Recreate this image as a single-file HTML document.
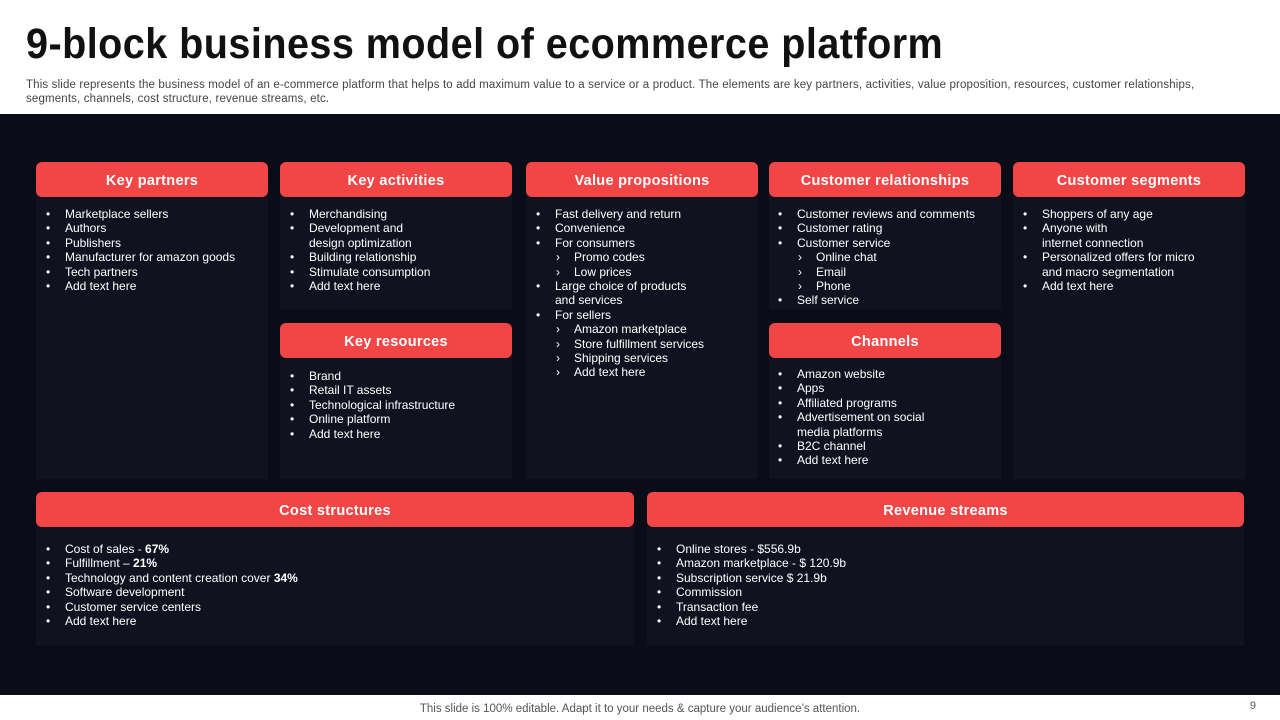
<!DOCTYPE html>
<html><head><meta charset="utf-8"><style>
*{margin:0;padding:0;box-sizing:border-box}
body{width:1280px;height:720px;background:#fff;font-family:"Liberation Sans",Arial,sans-serif;position:relative;overflow:hidden}
h1{position:absolute;left:26px;top:20px;font-size:43px;font-weight:bold;color:#111;white-space:nowrap;transform:scaleX(0.92);transform-origin:left top;letter-spacing:0.5px}
.sub{position:absolute;left:26px;top:78px;width:1200px;font-size:11.5px;letter-spacing:0.15px;line-height:14px;color:#444}
.band{position:absolute;left:0;top:114px;width:1280px;height:581px;background:#0a0d18}
.hd{position:absolute;background:#f24646;border-radius:6px;color:#fff;font-weight:bold;font-size:14.5px;text-align:center;height:35px;line-height:38px;letter-spacing:0.3px}
.bd{position:absolute;background:#10131f}
ul{position:absolute;list-style:none;color:#fff;font-size:12px;line-height:14.4px}
li{position:relative;padding-left:19px}
li:before{content:"•";position:absolute;left:0}
li.s{padding-left:38px}
li.s:before{content:"›";left:20px}
.foot{position:absolute;top:702px;left:0;width:1280px;text-align:center;font-size:11.5px;color:#555}
.pg{position:absolute;right:24px;top:700px;font-size:11px;color:#555}
</style></head><body>
<h1>9-block business model of ecommerce platform</h1>
<div class="sub">This slide represents the business model of an e-commerce platform that helps to add maximum value to a service or a product. The elements are key partners, activities, value proposition, resources, customer relationships, segments, channels, cost structure, revenue streams, etc.</div>
<div class="band"></div>

<div class="bd" style="left:36px;top:190px;width:232px;height:289px"></div>
<div class="hd" style="left:36px;top:162px;width:232px">Key partners</div>
<ul style="left:46px;top:207px"><li>Marketplace sellers</li><li>Authors</li><li>Publishers</li><li>Manufacturer for amazon goods</li><li>Tech partners</li><li>Add text here</li></ul>

<div class="bd" style="left:280px;top:190px;width:232px;height:120px"></div>
<div class="hd" style="left:280px;top:162px;width:232px">Key activities</div>
<ul style="left:290px;top:207px"><li>Merchandising</li><li>Development and<br>design optimization</li><li>Building relationship</li><li>Stimulate consumption</li><li>Add text here</li></ul>

<div class="bd" style="left:280px;top:350px;width:232px;height:129px"></div>
<div class="hd" style="left:280px;top:323px;width:232px">Key resources</div>
<ul style="left:290px;top:369px"><li>Brand</li><li>Retail IT assets</li><li>Technological infrastructure</li><li>Online platform</li><li>Add text here</li></ul>

<div class="bd" style="left:526px;top:190px;width:232px;height:289px"></div>
<div class="hd" style="left:526px;top:162px;width:232px">Value propositions</div>
<ul style="left:536px;top:207px"><li>Fast delivery and return</li><li>Convenience</li><li>For consumers</li><li class="s">Promo codes</li><li class="s">Low prices</li><li>Large choice of products<br>and services</li><li>For sellers</li><li class="s">Amazon marketplace</li><li class="s">Store fulfillment services</li><li class="s">Shipping services</li><li class="s">Add text here</li></ul>

<div class="bd" style="left:769px;top:190px;width:232px;height:120px"></div>
<div class="hd" style="left:769px;top:162px;width:232px">Customer relationships</div>
<ul style="left:778px;top:207px"><li>Customer reviews and comments</li><li>Customer rating</li><li>Customer service</li><li class="s">Online chat</li><li class="s">Email</li><li class="s">Phone</li><li>Self service</li></ul>

<div class="bd" style="left:769px;top:350px;width:232px;height:129px"></div>
<div class="hd" style="left:769px;top:323px;width:232px">Channels</div>
<ul style="left:778px;top:367px"><li>Amazon website</li><li>Apps</li><li>Affiliated programs</li><li>Advertisement on social<br>media platforms</li><li>B2C channel</li><li>Add text here</li></ul>

<div class="bd" style="left:1013px;top:190px;width:232px;height:289px"></div>
<div class="hd" style="left:1013px;top:162px;width:232px">Customer segments</div>
<ul style="left:1023px;top:207px"><li>Shoppers of any age</li><li>Anyone with<br>internet connection</li><li>Personalized offers for micro<br>and macro segmentation</li><li>Add text here</li></ul>

<div class="bd" style="left:36px;top:520px;width:598px;height:126px"></div>
<div class="hd" style="left:36px;top:492px;width:598px">Cost structures</div>
<ul style="left:46px;top:542px"><li>Cost of sales - <b>67%</b></li><li>Fulfillment – <b>21%</b></li><li>Technology and content creation cover <b>34%</b></li><li>Software development</li><li>Customer service centers</li><li>Add text here</li></ul>

<div class="bd" style="left:647px;top:520px;width:597px;height:126px"></div>
<div class="hd" style="left:647px;top:492px;width:597px">Revenue streams</div>
<ul style="left:657px;top:542px"><li>Online stores - $556.9b</li><li>Amazon marketplace - $ 120.9b</li><li>Subscription service $ 21.9b</li><li>Commission</li><li>Transaction fee</li><li>Add text here</li></ul>

<div class="foot" style="top:703px">This slide is 100% editable. Adapt it to your needs &amp; capture your audience’s attention.</div>
<div class="pg">9</div>
</body></html>
